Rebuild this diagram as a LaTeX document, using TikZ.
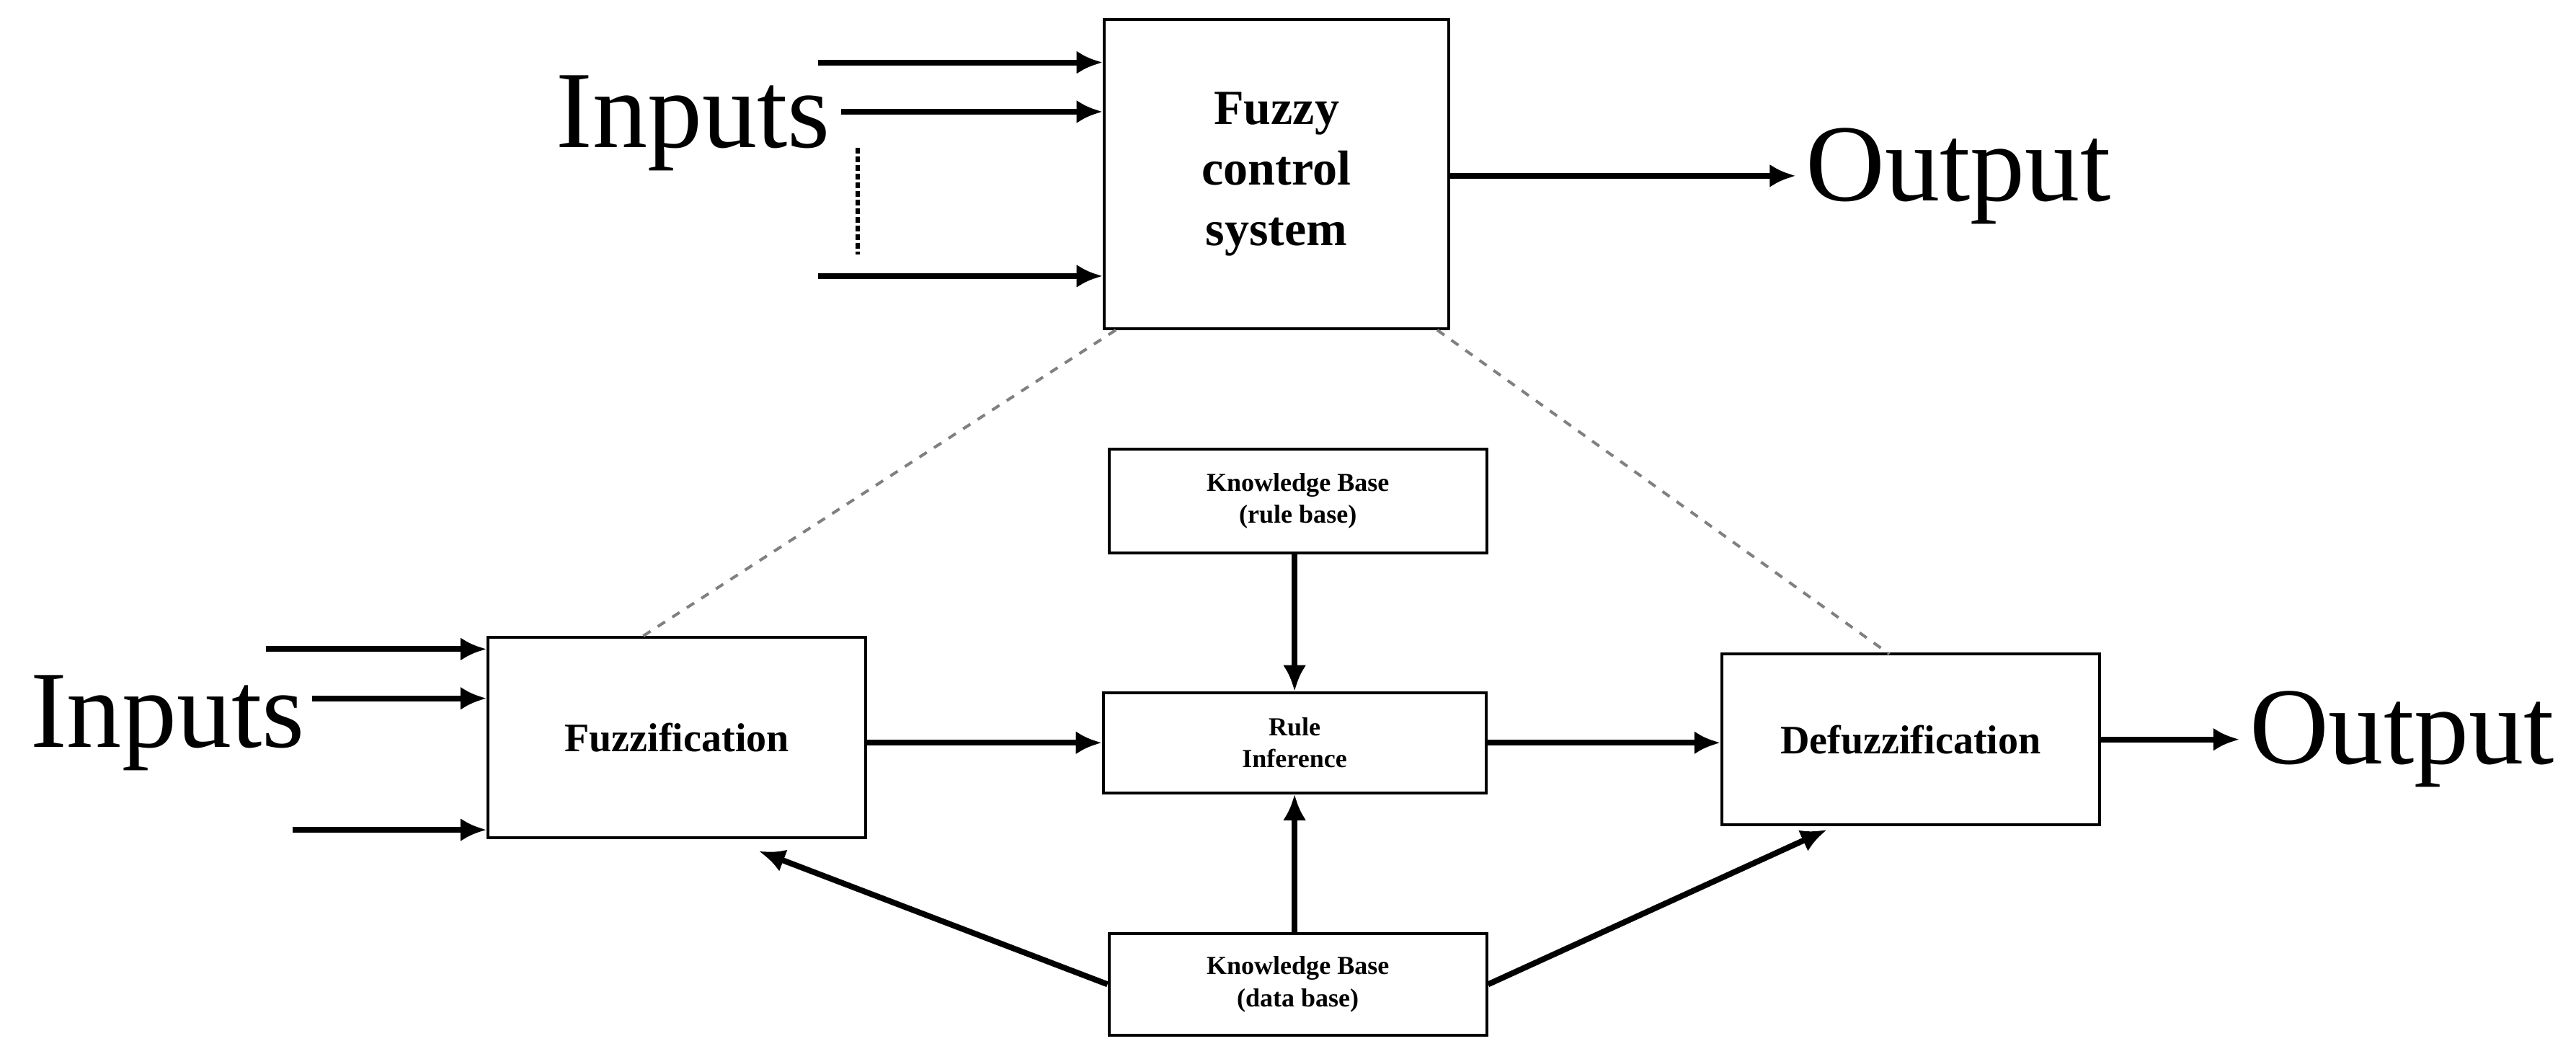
\documentclass[tikz,border=0pt]{standalone}
\usepackage{fontspec}
\setmainfont{Liberation Serif}
\usetikzlibrary{arrows.meta}

\tikzset{
  blk/.style = {draw, line width=1pt, align=center, font=\bfseries},
  arr/.style = {line width=2pt, -{Latex[length=9pt,width=8pt]}},
  big/.style = {font=\fontsize{38}{40}\selectfont},
  small/.style = {font=\fontsize{9}{11}\selectfont\bfseries}
}

\begin{document}
\begin{tikzpicture}[x=0.02cm, y=-0.02cm]
    \useasboundingbox (0,0) rectangle (1568,641);

    % upper half
    \node [blk, minimum width=4.2cm, minimum height=3.76cm, font=\fontsize{17}{21}\selectfont\bfseries] (fcs) at (777,106) {Fuzzy\\control\\system};
    \node [big] (in1) at (422,75) {Inputs};
    \node [big] (out1) at (1192,107) {Output};
    \coordinate (a1) at (498,38);
    \coordinate (a2) at (512,68);
    \coordinate (a3) at (498,168);
    \draw [arr] (a1) -- (a1 -| fcs.west);
    \draw [arr] (a2) -- (a2 -| fcs.west);
    \draw [arr] (a3) -- (a3 -| fcs.west);
    \draw [line width=1.5pt, dash pattern=on 2pt off 1pt] (522,90) -- (522,155);
    \draw [arr] (fcs.east |- out1) -- (out1.west);

    % lower half
    \node [blk, minimum width=4.6cm, minimum height=2.44cm, font=\fontsize{14}{16}\selectfont\bfseries] (fuzz) at (412,449) {Fuzzification};
    \node [blk, minimum width=4.6cm, minimum height=2.08cm, font=\fontsize{14}{16}\selectfont\bfseries] (defuzz) at (1163,450) {Defuzzification};
    \node [blk, small, minimum width=4.6cm, minimum height=1.26cm] (kbr) at (790,305) {Knowledge Base\\(rule base)};
    \node [blk, small, minimum width=4.66cm, minimum height=1.22cm] (rule) at (788,452) {Rule\\Inference};
    \node [blk, small, minimum width=4.6cm, minimum height=1.24cm] (kbd) at (790,599) {Knowledge Base\\(data base)};
    \node [big] (in2) at (102,440) {Inputs};
    \node [big] (out2) at (1462,450) {Output};

    \coordinate (b1) at (162,395);
    \coordinate (b2) at (190,425);
    \coordinate (b3) at (178,505);
    \draw [arr] (b1) -- (b1 -| fuzz.west);
    \draw [arr] (b2) -- (b2 -| fuzz.west);
    \draw [arr] (b3) -- (b3 -| fuzz.west);

    \draw [arr] (fuzz.east |- rule) -- (rule.west);
    \draw [arr] (rule.east) -- (rule.east -| defuzz.west);
    \draw [arr] (defuzz.east) -- (out2.west);
    \draw [arr] (kbr.south -| rule) -- (rule.north);
    \draw [arr] (kbd.north -| rule) -- (rule.south);
    \draw [arr] (kbd.west) -- (462,518);
    \draw [arr] (kbd.east) -- (1112,505);

    % dashed links
    \draw [dashed, gray, line width=1pt] (fcs.south west) ++(8,0) -- (390,388);
    \draw [dashed, gray, line width=1pt] (fcs.south east) ++(-8,0) -- (1150,398);
\end{tikzpicture}
\end{document}
